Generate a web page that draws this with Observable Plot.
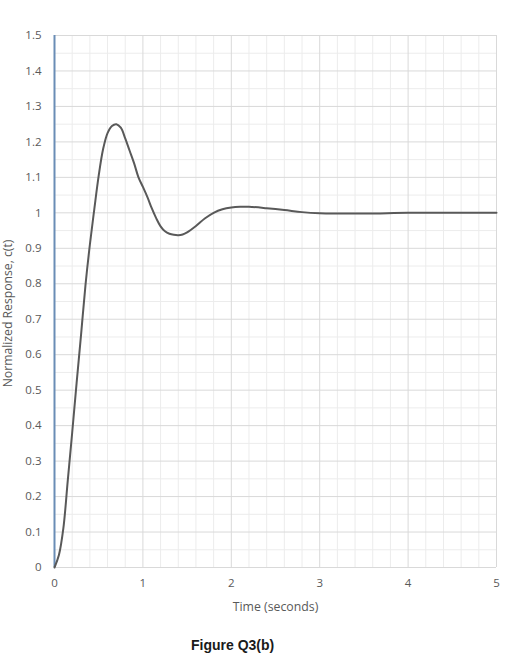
<!DOCTYPE html>
<html>
<head>
<meta charset="utf-8">
<script src="https://cdn.jsdelivr.net/npm/d3@7"></script>
<script src="https://cdn.jsdelivr.net/npm/@observablehq/plot@0.6"></script>
<style>
  html, body { margin: 0; padding: 0; background: #fff; }
  #chart { position: relative; width: 526px; height: 670px; }
  #caption { position: absolute; left: 191px; top: 637px; font: bold 14px "Liberation Sans", Arial, sans-serif; color: #1a1a1a; }
</style>
</head>
<body>
<div id="chart"><div id="caption">Figure Q3(b)</div></div>
<script>
// Step response data
const time = [0, 0.05, 0.1, 0.15, 0.2, 0.25, 0.3, 0.35, 0.4, 0.45, 0.5, 0.55, 0.6, 0.65, 0.7, 0.75, 0.8, 0.85, 0.9, 0.95, 1.0, 1.05, 1.1, 1.15, 1.2, 1.25, 1.3, 1.35, 1.4, 1.45, 1.5, 1.6, 1.7, 1.8, 1.9, 2.0, 2.1, 2.2, 2.4, 2.6, 2.8, 3.0, 3.5, 4.0, 4.5, 5.0];
const response = [0, 0.035, 0.11, 0.245, 0.38, 0.52, 0.655, 0.795, 0.91, 1.01, 1.105, 1.18, 1.225, 1.245, 1.25, 1.24, 1.21, 1.175, 1.14, 1.10, 1.073, 1.045, 1.013, 0.985, 0.962, 0.948, 0.941, 0.938, 0.937, 0.939, 0.945, 0.963, 0.984, 1.0, 1.01, 1.015, 1.017, 1.017, 1.013, 1.008, 1.002, 0.999, 0.998, 1.0, 1.0, 1.0];
const xTicks = [0, 1, 2, 3, 4, 5];
const yTicks = [0, 0.1, 0.2, 0.3, 0.4, 0.5, 0.6, 0.7, 0.8, 0.9, 1, 1.1, 1.2, 1.3, 1.4, 1.5];
const xMinor = d3.range(0, 5.0001, 0.2).map(d => +d.toFixed(2)).filter(d => !xTicks.includes(d));
const yMinor = d3.range(0, 1.5001, 0.05).map(d => +d.toFixed(2)).filter(d => !yTicks.includes(d));
const xLabel = "Time (seconds)";
const yLabel = "Normalized Response, c(t)";

const data = time.map((t, i) => ({t, c: response[i]}));
const fontFamily = "'Open Sans', 'DejaVu Sans', sans-serif";

const chart = Plot.plot({
  width: 526,
  height: 625,
  marginLeft: 54,
  marginRight: 30,
  marginTop: 35,
  marginBottom: 58,
  style: {fontFamily, fontSize: "11.5px", color: "#595959", background: "#fff"},
  x: {domain: [0, 5]},
  y: {domain: [0, 1.5]},
  marks: [
    Plot.ruleX(xMinor, {stroke: "#ececec", strokeWidth: 1}),
    Plot.ruleY(yMinor, {stroke: "#ececec", strokeWidth: 1}),
    Plot.ruleX(xTicks, {stroke: "#d9d9d9", strokeWidth: 1}),
    Plot.ruleY(yTicks, {stroke: "#d9d9d9", strokeWidth: 1}),
    Plot.ruleX([0], {y1: 0, y2: 1.5, stroke: "#6a8db6", strokeWidth: 2}),
    Plot.line(data, {x: "t", y: "c", stroke: "#595959", strokeWidth: 2, curve: "catmull-rom"}),
    Plot.axisX({ticks: xTicks, tickSize: 0, tickPadding: 11, label: null, tickFormat: d => `${d}`}),
    Plot.axisY({ticks: yTicks, tickSize: 0, tickPadding: 13, label: null, tickFormat: d => `${+d.toFixed(2)}`}),
    Plot.text([xLabel], {frameAnchor: "bottom", dy: 40, lineAnchor: "middle", textAnchor: "middle", text: d => d, fontSize: 12.3, fill: "#595959"}),
    Plot.text([yLabel], {frameAnchor: "left", dx: -46, dy: 12, rotate: -90, lineAnchor: "middle", textAnchor: "middle", text: d => d, fontSize: 12.2, fill: "#595959"})
  ]
});
document.getElementById("chart").prepend(chart);
</script>
</body>
</html>
